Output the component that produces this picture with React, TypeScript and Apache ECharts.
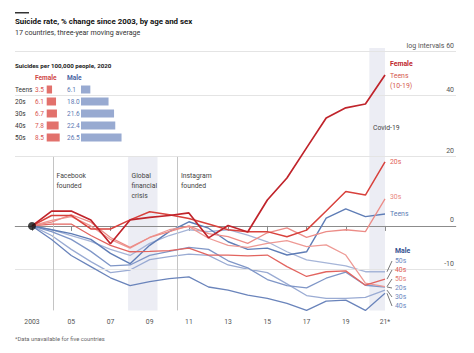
import { useEffect, useRef } from "react";
import * as echarts from "echarts";

const years = [2003, 2004, 2005, 2006, 2007, 2008, 2009, 2010, 2011, 2012, 2013, 2014, 2015, 2016, 2017, 2018, 2019, 2020, 2021];
const tickYears = [2003, 2005, 2007, 2009, 2011, 2013, 2015, 2017, 2019, 2021];
const tickLabels = ["2003", "05", "07", "09", "11", "13", "15", "17", "19", "21*"];
const gridValues = [60, 40, 20, 0, -10, -20];

const femaleTeens = [0, 4.0, 4.0, 1.6, -4.6, 1.6, 2.3, 2.8, 3.5, -3.1, 0.1, -1.6, 7.1, 13.5, 22.9, 33.0, 36.6, 38.0, 49.0];
const female20s = [0, 2.8, 2.8, -0.8, -0.8, 1.6, 3.8, 3.0, 2.0, 0.5, -1.0, -1.5, -1.5, -2.8, -1.1, 4.0, 9.5, 8.5, 18.4];
const female30s = [0, 1.0, 3.0, 1.0, -3.0, -5.5, -3.0, -1.5, 0.0, -2.0, -2.8, -4.5, -1.8, -0.5, -3.0, -1.5, -1.0, -1.5, 7.4];
const female40s = [0, 0.5, 0.5, -2.5, -5.0, -6.6, -6.5, -6.3, -5.7, -7.4, -7.4, -7.6, -7.4, -10.2, -12.5, -11.4, -11.2, -14.5, -13.1];
const female50s = [0, 1.5, 2.5, 0.0, -3.5, -5.7, -3.0, -1.0, -0.2, -3.2, -5.0, -5.5, -4.5, -3.8, -5.3, -4.9, -7.4, -14.0, -14.8];
const maleTeens = [0, -1.0, -2.0, -3.5, -7.0, -9.5, -5.0, -1.5, 1.1, -0.6, -4.1, -6.0, -5.7, -7.4, -6.6, 2.1, 4.6, 2.5, 3.2];
const male20s = [0, -1.5, -3.5, -6.5, -10.0, -9.8, -7.5, -6.5, -5.5, -6.0, -8.8, -10.5, -13.2, -14.6, -15.1, -12.9, -11.5, -14.5, -14.9];
const male30s = [0, -2.5, -6.0, -9.0, -11.6, -11.0, -8.5, -7.8, -7.2, -7.5, -9.8, -10.8, -11.6, -14.2, -16.8, -17.4, -17.4, -17.2, -15.6];
const male40s = [0, -3.5, -7.5, -10.2, -12.8, -14.6, -13.7, -13.0, -12.6, -14.9, -15.6, -16.7, -17.4, -18.5, -20.0, -18.0, -17.8, -20.0, -16.3];
const male50s = [0, -1.0, -2.5, -4.0, -6.0, -7.5, -4.5, -2.5, -1.0, -1.5, -1.0, -2.4, -4.1, -6.6, -8.6, -9.3, -10.0, -11.4, -11.4];

const insetCategories = ["Teens", "20s", "30s", "40s", "50s"];
const insetFemale = [3.5, 6.1, 6.7, 7.8, 8.5];
const insetMale = [6.1, 18.0, 21.6, 22.4, 26.5];

const FF = "Roboto, sans-serif";
const toLog = (p: number) => Math.log10(1 + p / 100);
const Y_MIN = Math.log10(0.8);
const Y_MAX = Math.log10(1.6);

export default function App() {
  const ref = useRef<HTMLDivElement>(null);
  useEffect(() => {
    if (!ref.current) return;
    const chart = echarts.init(ref.current, null, { renderer: "svg" });

    const mk = (vals: number[], color: string, width: number, z: number) => ({
      type: "line",
      xAxisIndex: 0,
      yAxisIndex: 0,
      data: years.map((y, i) => [y, toLog(vals[i])]),
      symbol: "none",
      lineStyle: { color, width },
      z,
      silent: true,
    });

    const lines = [
      { v: male50s, c: "#a6b5d8", w: 1.3 },
      { v: male30s, c: "#9aabd3", w: 1.3 },
      { v: male20s, c: "#7f96c7", w: 1.3 },
      { v: male40s, c: "#6a84bb", w: 1.3 },
      { v: maleTeens, c: "#5f7db6", w: 1.4 },
      { v: female50s, c: "#ee9a95", w: 1.3 },
      { v: female40s, c: "#e2645f", w: 1.3 },
      { v: female30s, c: "#ec8c87", w: 1.3 },
      { v: female20s, c: "#d8413c", w: 1.5 },
      { v: femaleTeens, c: "#c0242b", w: 1.7 },
    ];

    const option: any = {
      animation: false,
      textStyle: { fontFamily: FF },
      grid: [
        { left: 15, right: 18, top: 48, bottom: 42.6 },
        { left: 46.7, top: 83.5, width: 30.6, height: 60 },
        { left: 81, top: 83.5, width: 45.9, height: 60 },
      ],
      xAxis: [
        {
          type: "value",
          gridIndex: 0,
          min: 2002.133,
          max: 2024.62,
          splitLine: { show: false },
          axisLine: { show: true, lineStyle: { color: "#d4d4d4", width: 1 } },
          axisTick: { show: true, customValues: tickYears, length: 5, lineStyle: { color: "#8a8a8a" } },
          axisLabel: {
            customValues: tickYears,
            formatter: (v: number) => tickLabels[tickYears.indexOf(Math.round(v))] ?? "",
            margin: 8,
            fontSize: 6.8,
            color: "#555",
            fontFamily: FF,
          },
        },
        { type: "value", gridIndex: 1, min: 0, max: 20, show: false },
        { type: "value", gridIndex: 2, min: 0, max: 30, show: false },
      ],
      yAxis: [
        { type: "value", gridIndex: 0, min: Y_MIN, max: Y_MAX, show: false },
        {
          type: "category", gridIndex: 1, data: insetCategories, inverse: true, position: "left", offset: 0,
          axisLine: { show: false }, axisTick: { show: false },
          axisLabel: { align: "left", margin: 31.7, fontSize: 6.5, color: "#333", fontFamily: FF },
        },
        {
          type: "category", gridIndex: 1, data: insetCategories, inverse: true, position: "left", offset: 0,
          axisLine: { show: false }, axisTick: { show: false },
          axisLabel: {
            align: "left", margin: 11.7, fontSize: 6.5, color: "#d9534f", fontFamily: FF,
            formatter: (_v: string, i: number) => insetFemale[i].toFixed(1),
          },
        },
        {
          type: "category", gridIndex: 2, data: insetCategories, inverse: true, position: "left", offset: 0,
          axisLine: { show: false }, axisTick: { show: false },
          axisLabel: {
            align: "left", margin: 14, fontSize: 6.5, color: "#5b78b3", fontFamily: FF,
            formatter: (_v: string, i: number) => insetMale[i].toFixed(1),
          },
        },
      ],
      series: [
        {
          type: "line",
          xAxisIndex: 0,
          yAxisIndex: 0,
          data: [],
          z: 1,
          silent: true,
          markArea: {
            silent: true,
            itemStyle: { color: "#ecedf4" },
            data: [
              [{ coord: [2007.9, toLog(20)] }, { coord: [2009.4, Y_MIN] }],
              [{ coord: [2020.2, Y_MAX] }, { coord: [2021.0, Y_MIN] }],
            ],
          },
          markLine: {
            silent: true,
            symbol: ["none", "none"],
            data: [
              ...gridValues.map((g) => ({
                yAxis: toLog(g),
                lineStyle: { color: g === 0 ? "#8c8c8c" : "#e4e4e4", width: g === 0 ? 1.2 : 1, type: "solid" },
                label: {
                  show: true,
                  position: "insideEndTop",
                  distance: 2,
                  formatter: g === 60 ? "log intervals 60" : String(g),
                  fontSize: 7,
                  color: "#555",
                  fontFamily: FF,
                },
              })),
              [
                { coord: [2004.1, toLog(20)], lineStyle: { color: "#c4c4c4", width: 1, type: "solid" }, label: { show: false } },
                { coord: [2004.1, Y_MIN] },
              ],
              [
                { coord: [2010.4, toLog(20)], lineStyle: { color: "#c4c4c4", width: 1, type: "solid" }, label: { show: false } },
                { coord: [2010.4, Y_MIN] },
              ],
            ],
          },
        },
        ...lines.map((l, i) => mk(l.v, l.c, l.w, 3 + i)),
        {
          type: "scatter",
          xAxisIndex: 0,
          yAxisIndex: 0,
          data: [[years[0], toLog(femaleTeens[0])]],
          symbolSize: 8,
          itemStyle: { color: "#111" },
          z: 20,
          silent: true,
        },
        {
          type: "bar", xAxisIndex: 1, yAxisIndex: 1, data: insetFemale, barWidth: 8,
          itemStyle: { color: "#e2716c" }, silent: true,
        },
        {
          type: "bar", xAxisIndex: 2, yAxisIndex: 3, data: insetMale, barWidth: 8,
          itemStyle: { color: "#98aad1" }, silent: true,
        },
      ],
    };
    chart.setOption(option);

    const txt = (x: number, y: number, text: string, color: string, size = 7, bold = false, align = "left") => ({
      type: "text",
      x,
      y,
      silent: true,
      z: 50,
      style: {
        text,
        fill: color,
        fontSize: size,
        fontWeight: bold ? "bold" : "normal",
        fontFamily: FF,
        textAlign: align,
        textVerticalAlign: "middle",
      },
    });

    const endPx = (vals: number[]) =>
      chart.convertToPixel({ gridIndex: 0 }, [years[years.length - 1], toLog(vals[vals.length - 1])]) as number[];

    const leaders: any[] = [
      { v: male50s, y: 261 },
      { v: female40s, y: 270 },
      { v: female50s, y: 279 },
      { v: male20s, y: 288 },
      { v: male30s, y: 297 },
      { v: male40s, y: 306 },
    ].map((d) => {
      const p = endPx(d.v);
      return {
        type: "line",
        silent: true,
        z: 50,
        shape: { x1: p[0] + 2, y1: p[1], x2: 392, y2: d.y },
        style: { stroke: "#555", lineWidth: 0.8 },
      };
    });

    const graphic: any[] = [
      { type: "rect", silent: true, shape: { x: 15, y: 12, width: 14, height: 1.5 }, style: { fill: "#333" } },
      txt(15, 21, "Suicide rate, % change since 2003, by age and sex", "#111", 7.9, true),
      txt(15, 32.5, "17 countries, three-year moving average", "#333", 7.1),
      txt(15, 65.5, "Suicides per 100,000 people, 2020", "#222", 6.2, true),
      txt(35, 78, "Female", "#d04848", 6.6, true),
      txt(67, 78, "Male", "#4a66a3", 6.6, true),
      txt(56.5, 176, "Facebook", "#444", 6.8),
      txt(56.5, 186, "founded", "#444", 6.8),
      txt(131.5, 176, "Global", "#444", 6.8),
      txt(131.5, 186, "financial", "#444", 6.8),
      txt(131.5, 196, "crisis", "#444", 6.8),
      txt(181, 176, "Instagram", "#444", 6.8),
      txt(181, 186, "founded", "#444", 6.8),
      txt(373, 128, "Covid-19", "#444", 6.8),
      txt(390, 64, "Female", "#c0272d", 6.9, true),
      txt(390, 75.5, "Teens", "#d4574e", 6.9),
      txt(390, 86, "(10-19)", "#d4574e", 6.9),
      txt(390, 162, "20s", "#df5f57", 6.9),
      txt(390, 197, "30s", "#e98680", 6.9),
      txt(390, 214, "Teens", "#5b7bb4", 6.9),
      txt(395, 251, "Male", "#34508f", 6.9, true),
      txt(395, 261, "50s", "#6c88bf", 6.9),
      txt(395, 270, "40s", "#e05a52", 6.9),
      txt(395, 279, "50s", "#e57b74", 6.9),
      txt(395, 288, "20s", "#6c88bf", 6.9),
      txt(395, 297, "30s", "#6c88bf", 6.9),
      txt(395, 306, "40s", "#6c88bf", 6.9),
      txt(15, 338.5, "*Data unavailable for five countries", "#666", 5.8),
      ...leaders,
    ];
    chart.setOption({ graphic });

    return () => chart.dispose();
  }, []);

  return <div ref={ref} style={{ width: 474, height: 353, position: "absolute", left: 0, top: 0 }} />;
}
